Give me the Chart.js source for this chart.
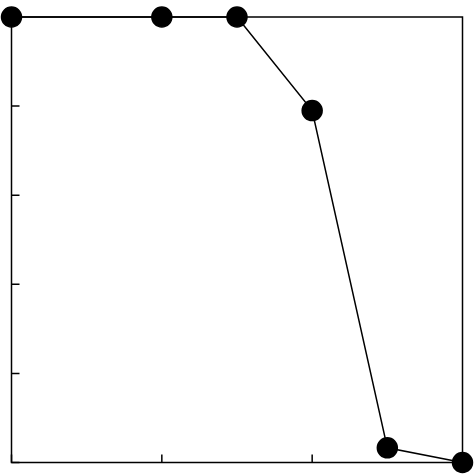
<!DOCTYPE html>
<html>
<head>
<script src="https://cdn.jsdelivr.net/npm/chart.js@4"></script>
<style>
  html, body { margin: 0; padding: 0; background: #fff; }
  #wrap { width: 474px; height: 474px; }
</style>
</head>
<body>
<div id="wrap"><canvas id="c"></canvas></div>
<script>
var xValues = [0, 1, 1.5, 2, 2.5, 3];
var yValues = [1, 1, 1, 0.79, 0.033, 0];
var xTicks = [0, 1, 2, 3];
var yTicks = [0, 0.2, 0.4, 0.6, 0.8, 1];

// box + inward ticks
var frame = {
    id: 'frame',
    afterDraw: function (chart) {
        var ctx = chart.ctx, a = chart.chartArea;
        var xs = chart.scales.x, ys = chart.scales.y;
        ctx.save();
        ctx.strokeStyle = '#000';
        ctx.lineWidth = 1.5;
        ctx.strokeRect(a.left, a.top, a.right - a.left, a.bottom - a.top);
        ctx.beginPath();
        xTicks.forEach(function (v) {
            var px = xs.getPixelForValue(v);
            ctx.moveTo(px, a.bottom); ctx.lineTo(px, a.bottom - 8);
        });
        yTicks.forEach(function (v) {
            var py = ys.getPixelForValue(v);
            ctx.moveTo(a.left, py); ctx.lineTo(a.left + 8, py);
        });
        ctx.stroke();
        ctx.restore();
    }
};

new Chart(document.getElementById('c'), {
    type: 'scatter',
    data: {
        datasets: [{
            data: xValues.map(function (x, i) { return {x: x, y: yValues[i]}; }),
            showLine: true,
            borderColor: '#000',
            borderWidth: 1.5,
            backgroundColor: '#000',
            pointRadius: 10,
            pointHoverRadius: 10,
            clip: false
        }]
    },
    options: {
        responsive: true,
        maintainAspectRatio: false,
        animation: false,
        layout: {padding: {left: 1, top: 17, right: 9, bottom: -6}},
        plugins: {legend: {display: false}, tooltip: {enabled: false}},
        scales: {
            x: {min: 0, max: 3, ticks: {display: false}, grid: {display: false}, border: {display: false}},
            y: {min: 0, max: 1, ticks: {display: false}, grid: {display: false}, border: {display: false}}
        }
    },
    plugins: [frame]
});
</script>
</body>
</html>
